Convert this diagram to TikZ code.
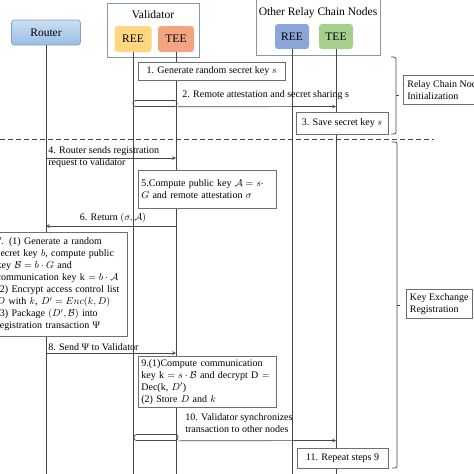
\documentclass[tikz,border=0pt]{standalone}
\usepackage{amsmath}
\usepackage{amssymb}
\usepackage{fontspec}
\setmainfont{Liberation Serif}
\usepackage{tikz}
\usetikzlibrary{arrows}
\usetikzlibrary{calc}

\definecolor{routertop}{RGB}{204,223,243}
\definecolor{routerblue}{RGB}{152,189,228}
\definecolor{framegray}{RGB}{132,151,176}
\definecolor{reeyellow}{RGB}{255,215,128}
\definecolor{teesalmon}{RGB}{243,165,128}
\definecolor{reeblue}{RGB}{140,166,218}
\definecolor{teegreen}{RGB}{166,207,140}
\definecolor{linegray}{RGB}{70,70,70}
\definecolor{boxgray}{RGB}{110,110,110}

\begin{document}
\begin{tikzpicture}[x = 1pt, y = -1pt, line width = 0.7pt]
			\useasboundingbox (0, 0) rectangle (474, 474);

			\begin{scope}[every node/.style={inner sep = 0pt, font = \fontsize{11.5}{13}\selectfont}]
			\node (v) [rectangle, draw = framegray, minimum width = 92, minimum height = 54] at (153, 30) {};
			\node (o) [rectangle, draw = framegray, minimum width = 124, minimum height = 58] at (318, 26) {};
			\node (vt) at (153, 15) {Validator};
			\node (ot) at (318, 13) {Other Relay Chain Nodes};
			\end{scope}

			\begin{scope}[every node/.style={rounded corners = 3pt, inner sep = 0pt, font = \fontsize{11.5}{13}\selectfont}]
			\node (r) [draw = routerblue!85!black, top color = routertop, bottom color = routerblue, minimum width = 69, minimum height = 25] at (46, 32.5) {Router};
			\node (vree) [fill = reeyellow, minimum width = 37, minimum height = 26] at (133, 39) {REE};
			\node (vtee) [fill = teesalmon, minimum width = 36, minimum height = 26] at (176, 39) {TEE};
			\node (oree) [fill = reeblue, minimum width = 34, minimum height = 25] at (292, 36.5) {REE};
			\node (otee) [fill = teegreen, minimum width = 34, minimum height = 25] at (336, 36.5) {TEE};
			\end{scope}

			\coordinate (rb) at (46, 474);
			\coordinate (vreeb) at (133, 474);
			\coordinate (vteeb) at (176, 474);
			\coordinate (oreeb) at (292, 474);
			\coordinate (oteeb) at (336, 474);

			\begin{scope}[every edge/.style = {draw = linegray}]
			\path 	(r) edge (rb)
			(vree) edge (vreeb)
			(vtee) edge (vteeb)
			(oree) edge (oreeb)
			(otee) edge (oteeb);
			\end{scope}

			% dashed separator
			\coordinate (d1) at (0, 139);
			\coordinate (d2) at (434, 139);
			\draw [linegray, dash pattern = on 5pt off 3pt] (d1) -- (d2);

			\begin{scope}[every node/.style={rectangle, draw = boxgray, fill = white, inner sep = 3pt, align = left, font = \fontsize{10}{12}\selectfont}]
			\node (s1) [minimum width = 147, minimum height = 18] at (211.5, 71) {1. Generate random secret key $s$};
			\node (s3) [minimum width = 92, minimum height = 22] at (342, 123) {3. Save secret key $s$};
			\node (s5) [anchor = north west, text width = 132, minimum height = 38] at (138, 170) {5.Compute public key $\mathcal{A} = s\cdot$\\$G$ and remote attestation $\sigma$};
			\node (s7) [anchor = north east, text width = 128, minimum height = 104] at (128, 232) {7. (1) Generate a random\\secret key $b$, compute public\\key $\mathcal{B} = b\cdot G$ and\\communication key k $= b\cdot\mathcal{A}$\\(2) Encrypt access control list\\$D$ with $k$, $D' = Enc(k,D)$\\(3) Package $(D',\mathcal{B})$ into\\registration transaction Ψ};
			\node (s9) [anchor = north west, text width = 132, minimum height = 51] at (138, 356) {9.(1)Compute communication\\key k $= s\cdot\mathcal{B}$ and decrypt D $=$\\Dec(k, $D'$)\\(2) Store $D$ and $k$};
			\node (s11) [minimum width = 91, minimum height = 20] at (342.5, 458) {11. Repeat steps 9};
			\node (l1) [anchor = north west, inner sep = 4pt, minimum height = 29] at (403, 75) {Relay Chain Node\\Initialization};
			\node (l2) [anchor = north west, inner sep = 3.5pt, minimum width = 65, minimum height = 29] at (406, 289) {Key Exchange\\Registration};
			\end{scope}

			\begin{scope}[every node/.style={inner sep = 1pt, align = left, font = \fontsize{10}{12}\selectfont}]
			\node (t2) [anchor = west] at (181, 95) {2. Remote attestation and secret sharing s};
			\node (t4) [anchor = west] at (47, 157.5) {4. Router sends registration\\request to validator};
			\node (t6) at (113, 218) {6. Return $(\sigma, \mathcal{A})$};
			\node (t8) [anchor = west] at (47, 347) {8. Send Ψ to Validator};
			\node (t10) [anchor = west] at (184, 423.5) {10. Validator synchronizes\\transaction to other nodes};
			\end{scope}

			\begin{scope}[every node/.style={rectangle, draw = linegray, rounded corners = 2.5pt, inner sep = 0pt, minimum width = 44, minimum height = 6}]
			\node (a2) at (155, 103.5) {};
			\node (a10) at (156, 437.5) {};
			\end{scope}

			\coordinate (e2) at (336, 106.5);
			\coordinate (a4) at (46, 158);
			\coordinate (b4) at (176, 158);
			\coordinate (a6) at (176, 226);
			\coordinate (b6) at (46, 226);
			\coordinate (a8) at (46, 353);
			\coordinate (b8) at (176, 353);
			\coordinate (e10) at (336, 440.5);

			\begin{scope}[>={stealth},
			every edge/.style = {draw = linegray}]
			\path [->] 	(a2.south east) edge (e2)
			(a4) edge (b4)
			(a6) edge (b6)
			(a8) edge (b8)
			(a10.south east) edge (e10);
			\end{scope}

			% brackets
			\coordinate (i1) at (396, 57);
			\coordinate (i2) at (396, 134);
			\coordinate (k1) at (397, 142);
			\coordinate (k2) at (397, 468);
			\draw [linegray, rounded corners = 2pt] ($(i1) + (-5, 0)$) -- (i1) -- (i2) -- ($(i2) + (-5, 0)$);
			\draw [linegray, rounded corners = 2pt] ($(k1) + (-5, 0)$) -- (k1) -- (k2) -- ($(k2) + (-5, 0)$);
			\draw [linegray] ($(i1)!0.5!(i2)$) -- ++(3, 0);
			\draw [linegray] ($(k1)!0.5!(k2)$) -- ++(3, 0);

			\end{tikzpicture}
\end{document}
